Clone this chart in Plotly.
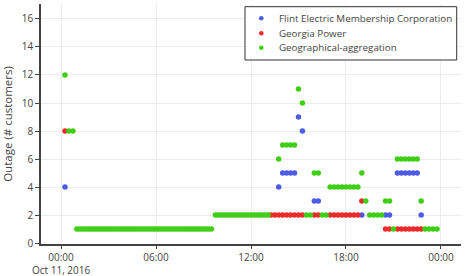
import plotly.graph_objects as go

DAY = "2016-10-11 "
NEXT_DAY = "2016-10-12 "

# ---- Flint Electric Membership Corporation ----
flint_times = ("00:15 13:45 14:00 14:15 14:30 14:45 15:00 15:15 16:00 16:15 "
               "19:00 20:30 20:45 21:15 21:30 21:45 22:00 22:15 22:30 22:45").split()
flint_values = [4, 4, 5, 5, 5, 5, 9, 8, 3, 3,
                2, 2, 2, 5, 5, 5, 5, 5, 5, 2]

# ---- Georgia Power ----
gp_times = ("00:15 13:15 13:30 13:45 14:00 14:15 14:30 14:45 15:00 15:15 "
            "16:00 16:15 17:00 17:15 17:30 17:45 18:00 18:15 18:30 18:45 "
            "19:00 20:30 20:45 21:15 21:30 21:45 22:00 22:15 22:30 22:45").split()
gp_values = [8, 2, 2, 2, 2, 2, 2, 2, 2, 2,
             2, 2, 2, 2, 2, 2, 2, 2, 2, 2,
             3, 1, 1, 1, 1, 1, 1, 1, 1, 1]

# ---- Geographical-aggregation ----
geo_times_early = "00:15 00:30 00:45".split()
geo_values_early = [12, 8, 8]
geo_times_ones = ("01:00 01:10 01:20 01:30 01:40 01:50 02:00 02:10 02:20 02:30 02:40 02:50 "
                  "03:00 03:10 03:20 03:30 03:40 03:50 04:00 04:10 04:20 04:30 04:40 04:50 "
                  "05:00 05:10 05:20 05:30 05:40 05:50 06:00 06:10 06:20 06:30 06:40 06:50 "
                  "07:00 07:10 07:20 07:30 07:40 07:50 08:00 08:10 08:20 08:30 08:40 08:50 "
                  "09:00 09:10 09:20 09:30").split()
geo_values_ones = [1] * len(geo_times_ones)
geo_times_twos = ("09:45 09:55 10:05 10:15 10:25 10:35 10:45 10:55 11:05 11:15 11:25 "
                  "11:35 11:45 11:55 12:05 12:15 12:25 12:35 12:45 12:55 13:05").split()
geo_values_twos = [2] * len(geo_times_twos)
geo_times_late = ("13:45 14:00 14:15 14:30 14:45 15:00 15:15 15:30 15:45 16:00 16:15 "
                  "16:30 16:45 17:00 17:15 17:30 17:45 18:00 18:15 18:30 18:45 19:00 "
                  "19:15 19:30 19:45 20:00 20:15 20:30 20:45 21:00 21:15 21:30 21:45 "
                  "22:00 22:15 22:30 22:45 23:00 23:15 23:30 23:45").split()
geo_values_late = [6, 7, 7, 7, 7, 11, 10, 2, 2, 5, 5,
                   2, 2, 4, 4, 4, 4, 4, 4, 4, 4, 5,
                   3, 2, 2, 2, 2, 3, 3, 1, 6, 6, 6,
                   6, 6, 6, 3, 1, 1, 1, 1]

geo_times = geo_times_early + geo_times_ones + geo_times_twos + geo_times_late
geo_values = geo_values_early + geo_values_ones + geo_values_twos + geo_values_late

tick_vals = [DAY + "00:00", DAY + "06:00", DAY + "12:00", DAY + "18:00", NEXT_DAY + "00:00"]
tick_text = ["00:00", "06:00", "12:00", "18:00", "00:00"]
date_label = "Oct 11, 2016"
y_ticks = [0, 2, 4, 6, 8, 10, 12, 14, 16]

series_names = ["Flint Electric Membership Corporation", "Georgia Power", "Geographical-aggregation"]
series_colors = ["#4c5ce6", "#ee2a2a", "#41cf16"]
series_data = [(flint_times, flint_values), (gp_times, gp_values), (geo_times, geo_values)]

fig = go.Figure()
for name, (times, vals), color in zip(series_names, series_data, series_colors):
    fig.add_trace(go.Scatter(
        x=[DAY + t for t in times], y=vals, name=name, mode="markers",
        marker=dict(size=5.5, color=color, line=dict(width=0)),
        showlegend=False,
    ))

# Legend box drawn as shapes + text (compact row spacing as in the reference)
shapes = [dict(type="rect", xref="paper", yref="paper",
               x0=0.4857, x1=0.9898, y0=0.7667, y1=0.9888,
               fillcolor="white", line=dict(color="#333", width=1), layer="above")]
annotations = []
row_y = [0.9404, 0.8779, 0.8179]
for name, color, yy in zip(series_names, series_colors, row_y):
    shapes.append(dict(type="circle", xref="paper", yref="paper",
                       xsizemode="pixel", ysizemode="pixel",
                       xanchor=0.5245, yanchor=yy,
                       x0=-2.3, x1=2.3, y0=-2.3, y1=2.3,
                       fillcolor=color, line=dict(width=0), layer="above"))
    annotations.append(dict(text=name, xref="paper", yref="paper",
                            x=0.5612, y=yy, xanchor="left", yanchor="middle",
                            showarrow=False, font=dict(size=9.8, color="#444")))

# date line under the first x tick
annotations.append(dict(text=date_label, xref="x", yref="paper",
                        x=tick_vals[0], y=-0.107, xanchor="center", yanchor="middle",
                        showarrow=False, borderpad=0,
                        font=dict(size=10, color="#444")))

fig.update_layout(
    width=474, height=276,
    margin=dict(l=41, r=13, t=4, b=32, autoexpand=False),
    paper_bgcolor="white", plot_bgcolor="white",
    font=dict(family="Open Sans, sans-serif", size=10, color="#444"),
    showlegend=False,
    shapes=shapes, annotations=annotations,
    xaxis=dict(
        range=["2016-10-10 22:44", "2016-10-12 01:16"],
        tickvals=tick_vals, ticktext=tick_text,
        showgrid=True, gridcolor="#ececec", gridwidth=1,
        showline=True, linecolor="#444", linewidth=1.5,
        ticks="outside", ticklen=3, tickcolor="#444",
        zeroline=False, tickfont=dict(size=10), automargin=False,
        ticklabelstandoff=0,
    ),
    yaxis=dict(
        range=[-0.07, 17.07], tickvals=y_ticks,
        showgrid=True, gridcolor="#ececec", gridwidth=1,
        showline=True, linecolor="#444", linewidth=1.5,
        ticks="outside", ticklen=4, tickcolor="#444",
        zeroline=False, tickfont=dict(size=10), automargin=False,
        title=dict(text="Outage (# customers)", font=dict(size=11.5), standoff=8),
    ),
)

fig.write_html("out.html")
